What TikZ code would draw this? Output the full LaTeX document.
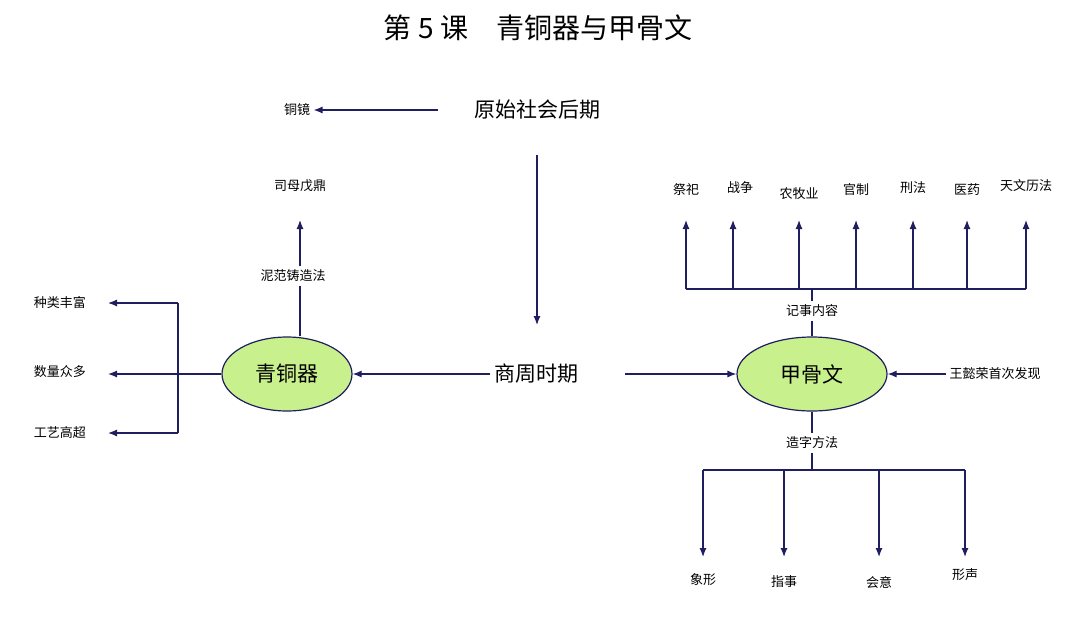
\documentclass[tikz,border=0pt]{standalone}
\usepackage{fontspec}
\setmainfont{Noto Sans CJK SC}
\usetikzlibrary{arrows.meta,shapes.geometric}
\definecolor{nv}{HTML}{1F1F5F}
\definecolor{gf}{HTML}{C8F08C}
\begin{document}
\begin{tikzpicture}[x=1pt,y=-1pt,
  ln/.style={draw=nv,line width=1.2pt},
  ar/.style={ln,-{Latex[length=9pt,width=7pt]}},
  sm/.style={font=\fontsize{13}{13}\selectfont},
  bg/.style={font=\fontsize{21}{21}\selectfont},
  el/.style={ellipse,draw=nv,line width=1.2pt,fill=gf,minimum width=130pt,minimum height=74pt,font=\fontsize{21}{21}\selectfont}]
\useasboundingbox (0,0) rectangle (1080,624);
\node (title) at (538,28) {\fontsize{28}{28}\selectfont 第 5 课\quad 青铜器与甲骨文};
\node[bg] (ys) at (537,110) {原始社会后期};
\node[sm] (tj) at (297,110) {铜镜};
\node[bg] (sz) at (536,374) {商周时期};
\node[el] (qtq) at (287,374) {青铜器};
\node[el,minimum width=150pt] (jgw) at (812,374) {甲骨文};
\node[sm] (smd) at (300,186) {司母戊鼎};
\node[sm] (nf) at (293,276) {泥范铸造法};
\node[sm] (k1) at (60,303) {种类丰富};
\node[sm] (k2) at (60,372) {数量众多};
\node[sm] (k3) at (60,433) {工艺高超};
\node[sm] (wy) at (995,374) {王懿荣首次发现};
\node[sm] (js) at (812,311) {记事内容};
\node[sm] (zz) at (812,443) {造字方法};
\coordinate (a) at (625,374);
\draw[ar] (438,110) -- (tj.east);
\draw[ar] (537,155) -- (537,325);
\draw[ar] (sz.west) -- (qtq.east);
\draw[ar] (a) -- (jgw.west);
\draw[ar] (wy.west) -- (jgw.east);
\draw[ln] (qtq.north -| 300,0) -- (nf.south -| 300,0);
\draw[ar] (nf.north -| 300,0) -- (300,220);
\draw[ar] (qtq.west) -- (108,374);
\draw[ln] (178,303) -- (178,433);
\draw[ar] (178,303) -- (108,303);
\draw[ar] (178,433) -- (108,433);
\draw[ln] (jgw.north) -- (js.south);
\draw[ln] (js.north) -- (812,289);
\draw[ln] (686,289) -- (1026,289);
\foreach \x/\t/\y in {686/祭祀/190,733/战争/188,799/农牧业/194,856/官制/190,913/刑法/188,967/医药/190,1026/天文历法/186}{
  \node[sm] (u\x) at (\ifnum\x=733 740\else\x\fi,\y) {\t};
  \draw[ar] (\x,289) -- (\x,220);
}
\draw[ln] (jgw.south) -- (zz.north);
\draw[ln] (zz.south) -- (812,470);
\draw[ln] (703,470) -- (965,470);
\foreach \x/\t/\y in {703/象形/580,784/指事/582,879/会意/582,965/形声/575}{
  \node[sm] (d\x) at (\x,\y) {\t};
  \draw[ar] (\x,470) -- (\x,557);
}
\end{tikzpicture}
\end{document}
